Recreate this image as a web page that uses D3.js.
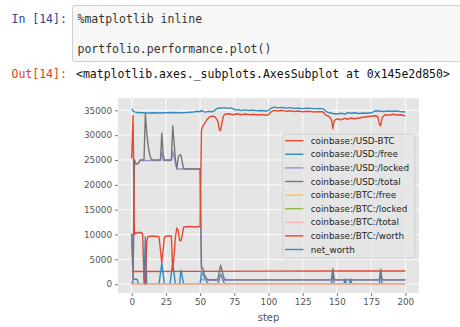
<!doctype html>
<html lang="en">
<head>
  <meta charset="utf-8">
  <title>portfolio.performance.plot()</title>
  <script src="https://cdn.jsdelivr.net/npm/d3@7"></script>
  <style>
    body { margin: 0; background: #fff; }
  </style>
</head>
<body>
<div id="vis"></div>
<script>
// ---- data as [step, value] vertices ----
const xTicks = [0, 25, 50, 75, 100, 125, 150, 175, 200];
const yTicks = [0, 5000, 10000, 15000, 20000, 25000, 30000, 35000];

const seriesNames = [
  'coinbase:/USD-BTC', 'coinbase:/USD:/free', 'coinbase:/USD:/locked', 'coinbase:/USD:/total',
  'coinbase:/BTC:/free', 'coinbase:/BTC:/locked', 'coinbase:/BTC:/total', 'coinbase:/BTC:/worth',
  'net_worth'
];

const usdBtc = [[0, 2550], [50, 2580], [100, 2620], [150, 2650], [200, 2650]];

const usdFree = [[0, 0], [1, 1000], [4, 1000], [5, 0], [9, 0], [10, 9500], [11, 0], [20, 0], [22, 4200],
  [24, 0], [28, 0], [30, 4200], [32, 0], [35, 0], [36, 2800], [38, 0], [50, 0], [51, 2500], [53, 1500],
  [56, 0], [63, 0], [65, 2000], [68, 0], [146, 0], [147, 2200], [148, 0], [155, 0], [156, 900], [157, 0],
  [159, 0], [160, 900], [161, 0], [181, 0], [182, 2000], [183, 0], [200, 0]];

const usdLocked = [[0, 10000], [1, 0], [2, 24200], [4, 24200], [5, 24300], [6, 24900], [21, 24900],
  [22, 26500], [23, 24900], [29, 24900], [30, 26800], [31, 25500], [33, 23200], [50, 23200], [51, 900],
  [55, 900], [56, 800], [63, 800], [65, 1600], [68, 800], [69, 850], [155, 850], [156, 1050], [157, 850],
  [159, 850], [160, 1050], [161, 850], [200, 850]];

const usdTotal = [[0, 10200], [1, 1000], [2, 25100], [3, 24300], [4, 24200], [5, 24400], [6, 25000],
  [9, 25000], [10, 34400], [11, 30500], [12, 28000], [13, 26300], [14, 25300], [15, 25000], [21, 25000],
  [22, 30400], [23, 26000], [24, 25000], [29, 25000], [30, 31900], [31, 28500], [32, 25000], [33, 23300],
  [34, 25500], [35, 26000], [36, 26000], [37, 24500], [38, 23200], [50, 23200], [51, 3500], [52, 3200],
  [53, 2000], [54, 1400], [55, 1000], [56, 900], [63, 900], [64, 2500], [65, 3800], [66, 2800], [67, 1500],
  [68, 1000], [69, 870], [146, 870], [147, 3100], [148, 1000], [149, 870], [181, 870], [182, 3000],
  [183, 1000], [184, 870], [200, 870]];

const btcFree = [[0, 10], [200, 13]];
const btcLocked = [[0, 0], [200, 0]];
const btcTotal = [[0, 10], [200, 13]];

const btcWorth = [[0, 25300], [1, 33900], [2, 10000], [3, 10400], [4, 10200], [5, 10500], [6, 10300],
  [7, 10400], [8, 10100], [9, 1000], [10, 0], [11, 8500], [12, 9600], [15, 9700], [19, 9600], [20, 9500],
  [22, 4300], [24, 9500], [26, 9700], [29, 9700], [30, 2700], [31, 6000], [32, 9600], [33, 11300],
  [34, 10800], [35, 8800], [36, 8700], [37, 10000], [38, 11500], [42, 11600], [46, 11500], [50, 11600],
  [51, 31000], [52, 31800], [53, 32200], [55, 33100], [57, 33700], [59, 33800], [61, 33700], [63, 32800],
  [64, 31200], [65, 30900], [66, 32500], [67, 33800], [68, 34200], [71, 34300], [74, 34100], [77, 34300],
  [80, 34100], [83, 34250], [86, 34100], [89, 34200], [92, 34050], [95, 34150], [98, 34000], [100, 34100],
  [102, 34700], [104, 35000], [107, 34850], [110, 35000], [113, 34800], [116, 34900], [119, 34750],
  [122, 34850], [125, 34700], [128, 34800], [131, 34750], [134, 34650], [137, 34750], [140, 34650],
  [142, 34000], [144, 33800], [146, 33200], [147, 31300], [148, 32900], [150, 33300], [153, 33100],
  [156, 33400], [158, 33200], [160, 33450], [163, 33300], [166, 33450], [169, 33600], [172, 33700],
  [175, 33800], [178, 33900], [180, 33700], [181, 32200], [182, 31900], [183, 33500], [185, 34100],
  [188, 34000], [191, 34200], [194, 34050], [197, 34100], [200, 33850]];

const netWorth = [[0, 35300], [1, 34900], [2, 34700], [4, 34550], [8, 34500], [12, 34450], [16, 34500],
  [20, 34450], [25, 34500], [30, 34550], [35, 34500], [40, 34550], [45, 34650], [48, 34800], [50, 34700],
  [51, 35000], [52, 34800], [54, 34650], [56, 34800], [58, 34700], [60, 34800], [62, 35300], [64, 35500],
  [66, 35450], [68, 35550], [70, 35400], [72, 35500], [74, 35350], [76, 35050], [78, 35150], [80, 34950],
  [83, 35100], [86, 34950], [89, 35050], [92, 34900], [95, 34950], [98, 34850], [100, 34950], [102, 35450],
  [104, 35650], [107, 35500], [110, 35600], [113, 35450], [116, 35550], [119, 35400], [122, 35450],
  [125, 35350], [128, 35450], [131, 35400], [134, 35300], [137, 35400], [140, 35300], [142, 34800],
  [144, 34550], [147, 34350], [150, 34250], [153, 34400], [156, 34250], [158, 34550], [160, 34400],
  [163, 34500], [166, 34350], [169, 34450], [172, 34400], [175, 34500], [178, 34900], [181, 34850],
  [184, 34750], [187, 34850], [190, 34800], [193, 34850], [196, 34750], [200, 34650]];

const seriesData = [usdBtc, usdFree, usdLocked, usdTotal, btcFree, btcLocked, btcTotal, btcWorth, netWorth];

// ggplot style colour cycle
const palette = ['#E24A33', '#348ABD', '#988ED5', '#777777', '#FBC15E', '#8EBA42', '#FFB5B8'];

// ---- drawing ----
const W = 460, H = 327;
const svg = d3.select('#vis').append('svg')
  .attr('width', W)
  .attr('height', H)
  .style('font-family', "'DejaVu Sans', sans-serif");

// notebook cell chrome
const mono = "'DejaVu Sans Mono', monospace";
svg.append('rect')
  .attr('x', 72.5).attr('y', 5.5)
  .attr('width', 400).attr('height', 56)
  .attr('rx', 2)
  .attr('fill', '#f7f7f7')
  .attr('stroke', '#cfcfcf');

const promptText = (x, y, txt, color) => svg.append('text')
  .attr('x', x).attr('y', y)
  .attr('fill', color)
  .style('font-family', mono)
  .style('font-size', '11.5px')
  .text(txt);

promptText(11.5, 22.7, 'In [14]:', '#303F9F');
promptText(77.5, 22.7, '%matplotlib inline', '#333');
promptText(77.5, 52.7, 'portfolio.performance.plot()', '#333');
promptText(11.5, 78.3, 'Out[14]:', '#D84315');
promptText(76, 78.3, '<matplotlib.axes._subplots.AxesSubplot at 0x145e2d850>', '#111');

// axes
const plot = { left: 118, right: 419, top: 98, bottom: 293 };

const x = d3.scaleLinear()
  .domain([-10, 210])
  .range([plot.left, plot.right]);

const y = d3.scaleLinear()
  .domain([-1780, 37480])
  .range([plot.bottom, plot.top]);

svg.append('rect')
  .attr('x', plot.left).attr('y', plot.top)
  .attr('width', plot.right - plot.left)
  .attr('height', plot.bottom - plot.top)
  .attr('fill', '#E5E5E5');

// grid
svg.append('g')
  .selectAll('line.vgrid')
  .data(xTicks)
  .enter().append('line')
    .attr('x1', d => x(d)).attr('x2', d => x(d))
    .attr('y1', plot.top).attr('y2', plot.bottom)
    .attr('stroke', '#fff')
    .attr('stroke-width', 0.9);

svg.append('g')
  .selectAll('line.hgrid')
  .data(yTicks)
  .enter().append('line')
    .attr('y1', d => y(d)).attr('y2', d => y(d))
    .attr('x1', plot.left).attr('x2', plot.right)
    .attr('stroke', '#fff')
    .attr('stroke-width', 0.9);

// axes with ticks
const xAxis = d3.axisBottom(x).tickValues(xTicks).tickSize(3).tickPadding(3).tickFormat(d3.format('d'));
const yAxis = d3.axisLeft(y).tickValues(yTicks).tickSize(3).tickPadding(3).tickFormat(d3.format('d'));

const gx = svg.append('g')
  .attr('transform', `translate(0, ${plot.bottom})`)
  .call(xAxis);
const gy = svg.append('g')
  .attr('transform', `translate(${plot.left}, 0)`)
  .call(yAxis);

[gx, gy].forEach(g => {
  g.select('.domain').remove();
  g.selectAll('.tick line').attr('stroke', '#555').attr('stroke-width', 0.8);
  g.selectAll('.tick text')
    .attr('fill', '#555')
    .style('font-family', "'DejaVu Sans', sans-serif")
    .style('font-size', '8.8px');
});

svg.append('text')
  .attr('x', (plot.left + plot.right) / 2)
  .attr('y', 320.5)
  .attr('text-anchor', 'middle')
  .attr('fill', '#555')
  .style('font-size', '10px')
  .text('step');

// lines
const line = d3.line()
  .x(d => x(d[0]))
  .y(d => y(d[1]));

const clip = svg.append('clipPath').attr('id', 'clip')
  .append('rect')
    .attr('x', plot.left).attr('y', plot.top)
    .attr('width', plot.right - plot.left)
    .attr('height', plot.bottom - plot.top);

svg.append('g')
  .attr('clip-path', 'url(#clip)')
  .selectAll('path')
  .data(seriesData)
  .enter().append('path')
    .attr('d', line)
    .attr('fill', 'none')
    .attr('stroke', (d, i) => palette[i % palette.length])
    .attr('stroke-width', 1.4)
    .attr('stroke-linejoin', 'round');

// legend
const lg = { x: 282.7, y: 134.3, w: 132.3, h: 124, row: 13.6, first: 140.7 };
svg.append('rect')
  .attr('x', lg.x).attr('y', lg.y)
  .attr('width', lg.w).attr('height', lg.h)
  .attr('rx', 2.5)
  .attr('fill', '#E5E5E5')
  .attr('fill-opacity', 0.8)
  .attr('stroke', '#CCCCCC')
  .attr('stroke-width', 0.8);

const items = svg.append('g')
  .selectAll('g')
  .data(seriesNames)
  .enter().append('g')
    .attr('transform', (d, i) => `translate(0, ${lg.first + i * lg.row})`);

items.append('line')
  .attr('x1', 285).attr('x2', 303.3)
  .attr('stroke', (d, i) => palette[i % palette.length])
  .attr('stroke-width', 1.4);

items.append('text')
  .attr('x', 310.7)
  .attr('dy', '0.35em')
  .attr('fill', '#222')
  .style('font-size', '8.8px')
  .text(d => d);
</script>
</body>
</html>
